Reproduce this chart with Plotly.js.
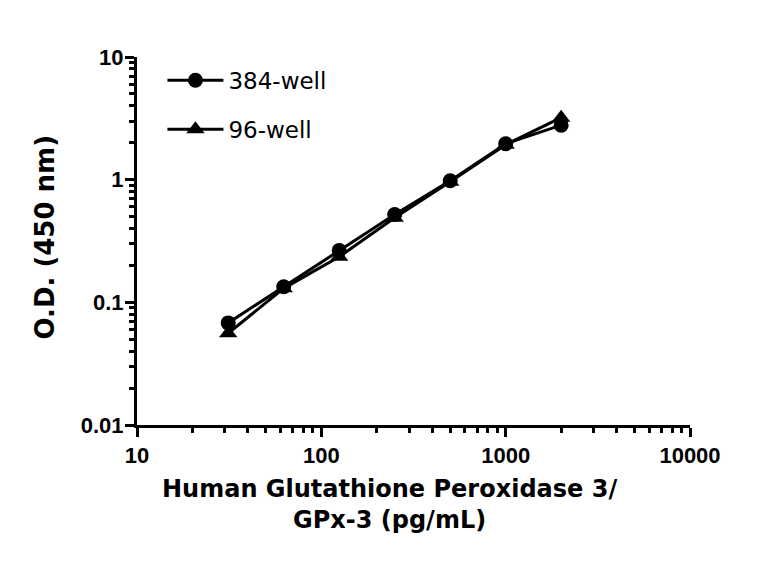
<!DOCTYPE html>
<html>
<head>
<meta charset="utf-8">
<script src="https://cdn.plot.ly/plotly-3.0.1.min.js"></script>
<style>html,body{margin:0;padding:0;background:#fff;}#chart{width:768px;height:570px;}</style>
</head>
<body>
<div id="chart"></div>
<script>
// Data
const concentrations = [31.25, 62.5, 125, 250, 500, 1000, 2000];
const od384 = [0.068, 0.134, 0.265, 0.52, 0.98, 1.96, 2.78];
const od96 = [0.056, 0.13, 0.235, 0.49, 0.96, 1.93, 3.2];
const seriesNames = ["384-well", "96-well"];
const xTickVals = [10, 100, 1000, 10000];
const xTickText = ["10", "100", "1000", "10000"];
const yTickVals = [0.01, 0.1, 1, 10];
const yTickText = ["0.01", "0.1", "1", "10"];

function minorTicks(lo, hi) {
  const out = [];
  for (let d = lo; d < hi; d++) {
    for (let m = 2; m <= 9; m++) out.push(m * Math.pow(10, d));
  }
  return out;
}

const tickFont = {family: "'Liberation Sans', Arial, sans-serif", size: 22, color: "#000", weight: "bold"};
const xTitleFont = {family: "'DejaVu Sans', sans-serif", size: 24, color: "#000", weight: "bold"};
const yTitleFont = {family: "'DejaVu Sans', sans-serif", size: 26, color: "#000", weight: "bold"};

const traces = [
  {
    x: concentrations, y: od384, name: seriesNames[0], type: "scatter", mode: "lines+markers",
    line: {color: "#000", width: 3},
    marker: {symbol: "circle", size: 15, color: "#000"},
    legendgroup: "a"
  },
  {
    x: concentrations, y: od96, name: seriesNames[1], type: "scatter", mode: "lines+markers",
    line: {color: "#000", width: 3},
    marker: {symbol: "triangle-up", size: 16, color: "#000"},
    legendgroup: "b"
  }
];

const layout = {
  width: 768, height: 570,
  margin: {l: 137, r: 78, t: 57, b: 145},
  paper_bgcolor: "#fff", plot_bgcolor: "#fff",
  showlegend: true,
  legend: {
    x: 0.046, y: 0.995, xanchor: "left", yanchor: "top",
    traceorder: "grouped", tracegroupgap: 16,
    font: {family: "'DejaVu Sans', sans-serif", size: 23, color: "#000"},
    bgcolor: "rgba(0,0,0,0)", itemwidth: 56
  },
  xaxis: {
    type: "log", range: [1, 4],
    showline: true, linecolor: "#000", linewidth: 3,
    showgrid: false, zeroline: false,
    ticks: "outside", ticklen: 9, tickwidth: 3, tickcolor: "#000",
    tickmode: "array", tickvals: xTickVals, ticktext: xTickText,
    tickfont: tickFont,
    minor: {ticks: "outside", ticklen: 5, tickwidth: 3, tickcolor: "#000", tickmode: "array", tickvals: minorTicks(1, 4), showgrid: false}
  },
  yaxis: {
    type: "log", range: [-2, 1],
    showline: true, linecolor: "#000", linewidth: 3,
    showgrid: false, zeroline: false,
    ticks: "outside", ticklen: 9, tickwidth: 3, tickcolor: "#000",
    ticklabelstandoff: -3,
    tickmode: "array", tickvals: yTickVals, ticktext: yTickText,
    tickfont: tickFont,
    minor: {ticks: "outside", ticklen: 5, tickwidth: 3, tickcolor: "#000", tickmode: "array", tickvals: minorTicks(-2, 1), showgrid: false}
  },
  annotations: [
    {
      text: "Human Glutathione Peroxidase 3/<br>GPx-3 (pg/mL)",
      xref: "paper", yref: "paper", x: 0.4575, y: -0.13,
      xanchor: "center", yanchor: "top", showarrow: false,
      font: xTitleFont, align: "center"
    },
    {
      text: "O.D. (450 nm)",
      xref: "paper", yref: "paper", x: -0.166, y: 0.51,
      xanchor: "center", yanchor: "middle", showarrow: false,
      textangle: -90, font: yTitleFont
    }
  ]
};

Plotly.newPlot("chart", traces, layout, {displayModeBar: false, staticPlot: true});
</script>
</body>
</html>
